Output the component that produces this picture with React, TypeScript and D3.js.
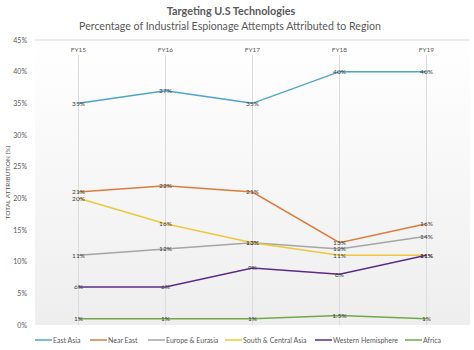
import React from 'react';
import * as d3 from 'd3';

const years = ['FY15', 'FY16', 'FY17', 'FY18', 'FY19'];
const regions = ['East Asia', 'Near East', 'Europe & Eurasia', 'South & Central Asia', 'Western Hemisphere', 'Africa'];
const eastAsia = [35, 37, 35, 40, 40];
const nearEast = [21, 22, 21, 13, 16];
const europe = [11, 12, 13, 12, 14];
const southAsia = [20, 16, 13, 11, 11];
const westHem = [6, 6, 9, 8, 11];
const africa = [1, 1, 1, 1.5, 1];
const yTicks = [0, 5, 10, 15, 20, 25, 30, 35, 40, 45];
const colors = ['#4ba6cc', '#dd7c3c', '#a5a5a5', '#f0c63a', '#5b2b86', '#72a84b'];

const seriesValues = [eastAsia, nearEast, europe, southAsia, westHem, africa];

const W = 474;
const H = 350;
const margin = { left: 35, right: 4, top: 40, bottom: 25 };
const font = 'Lato, "Open Sans", sans-serif';

export default function App() {
  const x = d3.scaleBand().domain(years).range([margin.left, W - margin.right]);
  const y = d3.scaleLinear().domain([0, 45]).range([H - margin.bottom, margin.top]);
  const cx = (d: string) => (x(d) as number) + x.bandwidth() / 2;
  const line = d3
    .line<number>()
    .x((_, i) => cx(years[i]))
    .y((v) => y(v));

  // legend positions along the bottom
  const legendX = [35, 90, 148, 225, 315, 405];

  return (
    <svg width={W} height={H} style={{ position: 'absolute', left: 0, top: 0, background: '#fff' }}>
      <defs>
        <linearGradient id="bg" x1="0" y1="0" x2="0" y2="1">
          <stop offset="0%" stopColor="#ffffff" />
          <stop offset="100%" stopColor="#eeeeee" />
        </linearGradient>
      </defs>
      <rect x={margin.left} y={y(45)} width={W - margin.left - margin.right} height={y(0) - y(45)} fill="url(#bg)" />
      <text x={231} y={15} textAnchor="middle" fontFamily={font} fontWeight="bold" fontSize={10.8} fill="#595959">
        Targeting U.S Technologies
      </text>
      <text x={230} y={30} textAnchor="middle" fontFamily={font} fontSize={10.6} fill="#595959">
        Percentage of Industrial Espionage Attempts Attributed to Region
      </text>
      <line x1={margin.left} x2={W - margin.right} y1={y(45)} y2={y(45)} stroke="#d9d9d9" />
      {years.map((yr) => (
        <g key={yr}>
          <line x1={cx(yr)} x2={cx(yr)} y1={y(45) + 15} y2={y(0)} stroke="#dcdcdc" />
          <text x={cx(yr)} y={y(45) + 12} textAnchor="middle" fontFamily={font} fontSize={6.5} fill="#595959">
            {yr}
          </text>
        </g>
      ))}
      {yTicks.map((t) => (
        <text key={t} x={27} y={y(t) + 2.5} textAnchor="end" fontFamily={font} fontSize={7} fill="#595959">
          {t}%
        </text>
      ))}
      <text
        transform={`translate(10,${(y(0) + y(45)) / 2}) rotate(-90)`}
        textAnchor="middle"
        fontFamily={font}
        fontSize={6.5}
        fill="#595959"
      >
        TOTAL ATTRIBUTION (%)
      </text>
      {seriesValues.map((vals, si) => (
        <g key={regions[si]}>
          <path d={line(vals) || ''} fill="none" stroke={colors[si]} strokeWidth={1.5} />
          {vals.map((v, i) => (
            <text
              key={i}
              x={cx(years[i])}
              y={y(v) + 2.3}
              textAnchor="middle"
              fontFamily={font}
              fontSize={6.5}
              fill="#404040"
            >
              {v}%
            </text>
          ))}
        </g>
      ))}
      {regions.map((r, i) => (
        <g key={r}>
          <line x1={legendX[i]} x2={legendX[i] + 17} y1={340} y2={340} stroke={colors[i]} strokeWidth={1.5} />
          <text x={legendX[i] + 18} y={342.5} fontFamily={font} fontSize={7} fill="#595959">
            {r}
          </text>
        </g>
      ))}
    </svg>
  );
}
